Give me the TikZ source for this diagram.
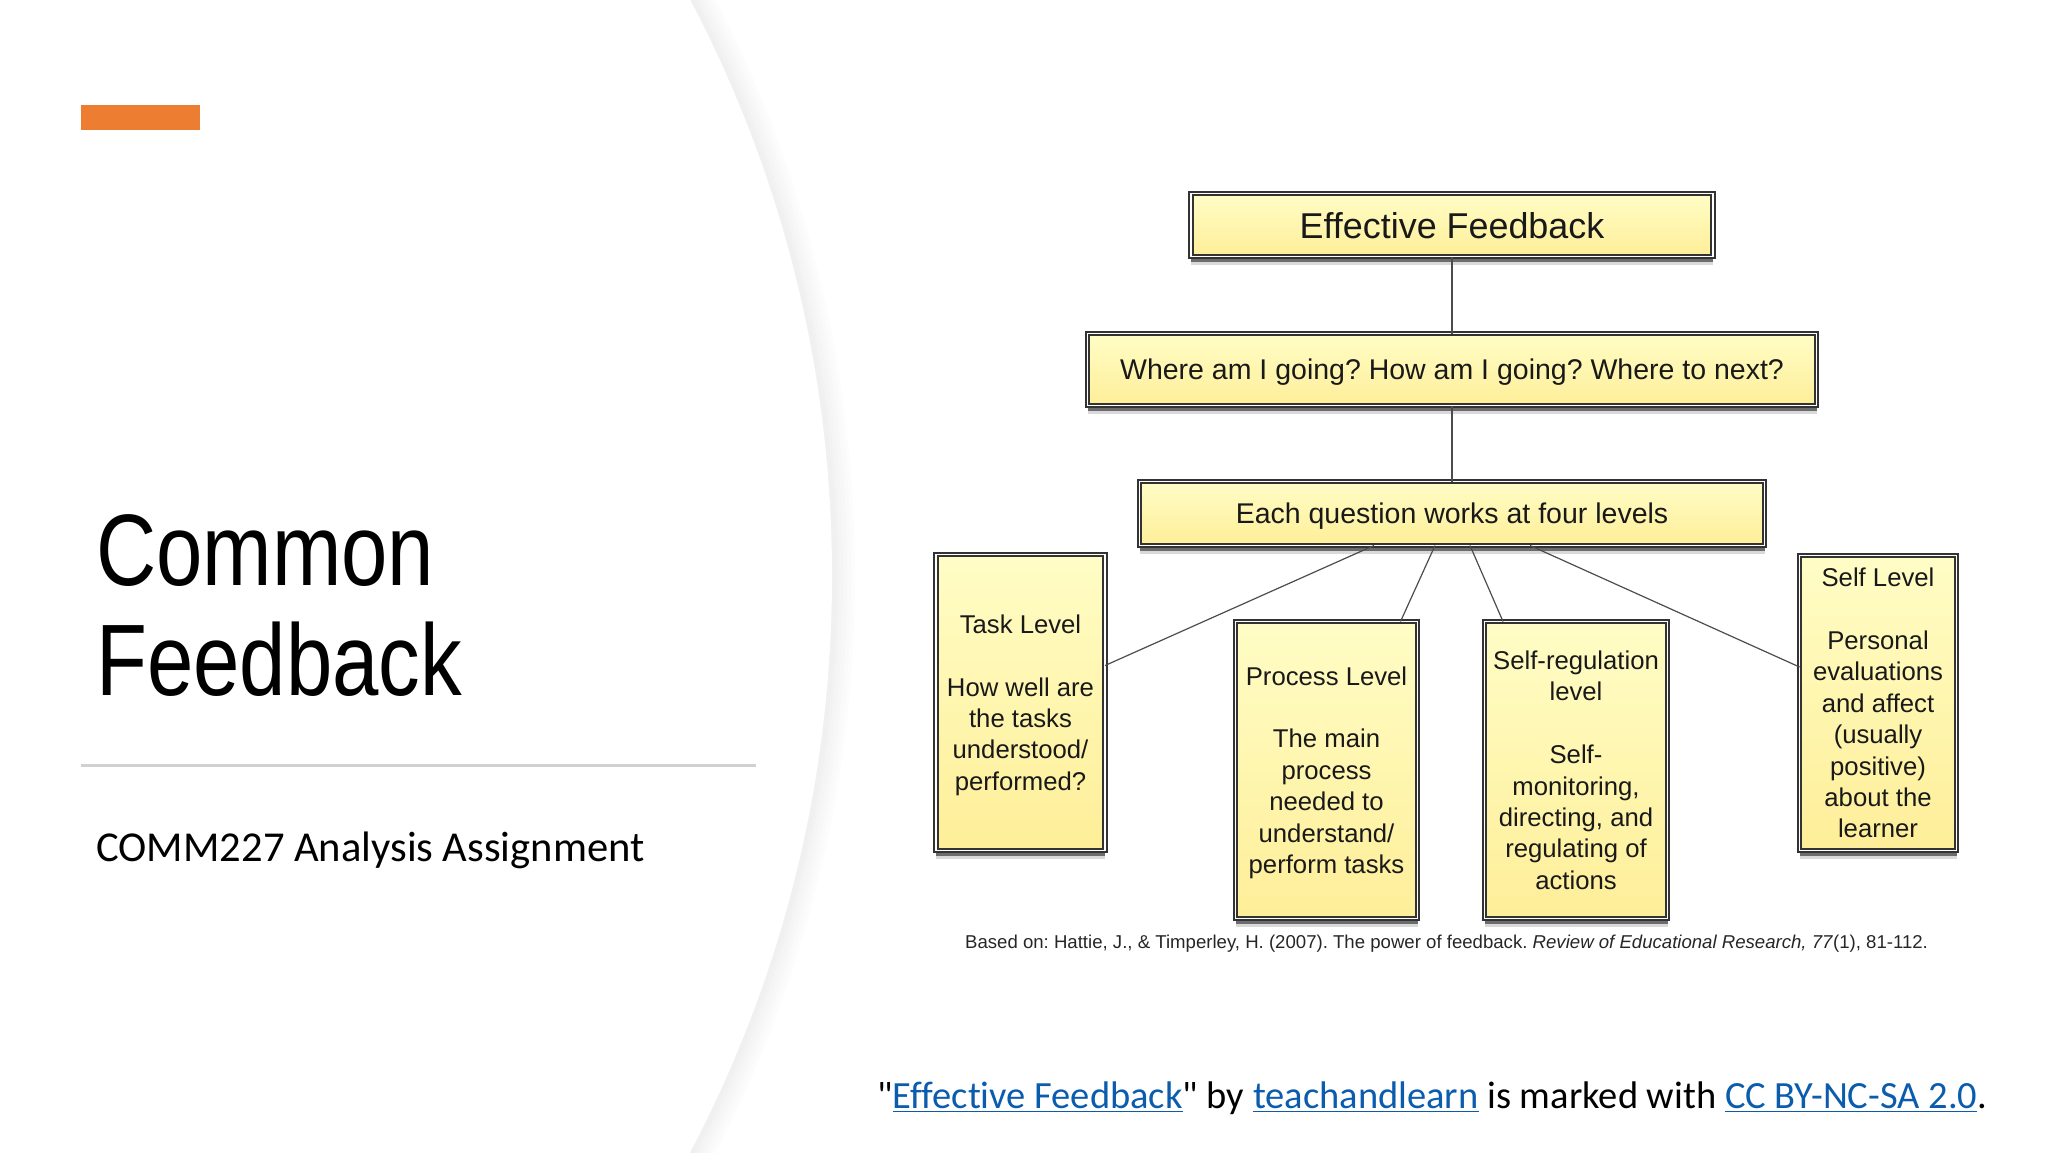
\documentclass[tikz,border=0pt]{standalone}
\usepackage{fontspec}
\setmainfont{Liberation Sans}
\newfontfamily\titlefont[FakeStretch=0.82]{Liberation Sans}
\newfontfamily\slidefont[Ligatures=NoCommon]{Carlito}
\usetikzlibrary{shadows}

\definecolor{accent}{HTML}{ED7D31}
\definecolor{linkblue}{HTML}{0B5CAD}
\definecolor{boxtop}{HTML}{FFFDC6}
\definecolor{boxbottom}{HTML}{FEEE98}
\newcommand{\lnk}[1]{\textcolor{linkblue}{\underline{#1}}}

\tikzset{
    fbbox/.style={draw=black!80,line width=0.85pt,double=white,double distance=0.9pt,
        top color=boxtop,bottom color=boxbottom,outer sep=0pt,inner sep=0pt,align=center,
        text=black!90,text depth=0pt,font=\fontsize{14.25}{15.7}\selectfont,
        drop shadow={shadow xshift=0pt,shadow yshift=-4pt,opacity=.15,fill=black},
        drop shadow={shadow xshift=0pt,shadow yshift=-2.8pt,opacity=.5,fill=black}},
    levelbox/.style={fbbox,font=\fontsize{12.85}{15.7}\selectfont},
    fbline/.style={draw=black!70,line width=0.6pt}
}

\begin{document}
\frenchspacing
\begin{tikzpicture}[x=0.5pt,y=-0.5pt]

    \useasboundingbox (0,0) rectangle (2048,1152);

    %draw curved panel
    \begin{scope}
    \clip (0,0) rectangle (2048,1152);
    \foreach \r/\g in {1262/1,1258/2,1254/3,1250/4,1246/5,1243/6,1239/0}
        \fill[black!\g!white] (-407,576) circle [radius=\r];
    \end{scope}

    %draw slide title
    \fill[accent] (81,105) rectangle (200,130);
    \draw[black!18,line width=1.5pt] (81,765) -- (756,765);
    \node (common) at (96,585) [anchor=base west,inner sep=0pt] {\titlefont\fontsize{50.8}{54}\selectfont Common};
    \node (feedback) at (96,695) [anchor=base west,inner sep=0pt] {\titlefont\fontsize{50.8}{54}\selectfont Feedback};
    \node (subtitle) at (96,861) [anchor=base west,inner sep=0pt] {\slidefont\fontsize{21.3}{24}\selectfont COMM227 Analysis Assignment};

    %draw boxes
    \node (effective) at (1452,225) [fbbox,minimum width=261pt,minimum height=31.5pt,font=\fontsize{17.95}{20}\selectfont] {Effective Feedback};
    \node (questions) at (1452,369.5) [fbbox,minimum width=364.5pt,minimum height=36pt] {Where am I going? How am I going? Where to next?};
    \node (levels) at (1452,513.5) [fbbox,minimum width=312.5pt,minimum height=32pt] {Each question works at four levels};
    \node (task) at (1020.5,702.5) [levelbox,minimum width=84.5pt,minimum height=148pt] {Task Level\\[15.7pt]How well are\\the tasks\\understood/\\performed?};
    \node (process) at (1326.5,770) [levelbox,minimum width=91pt,minimum height=148.5pt] {Process Level\\[15.7pt]The main\\process\\needed to\\understand/\\perform tasks};
    \node (selfreg) at (1576,770) [levelbox,minimum width=91.5pt,minimum height=148.5pt] {Self-regulation\\level\\[15.7pt]Self-\\monitoring,\\directing, and\\regulating of\\actions};
    \node (selflevel) at (1878,703) [levelbox,minimum width=78.5pt,minimum height=147.5pt] {Self Level\\[15.7pt]Personal\\evaluations\\and affect\\(usually\\positive)\\about the\\learner};

    %draw connectors
    \draw[fbline] (effective) -- (questions);
    \draw[fbline] (questions) -- (levels);
    \draw[fbline] ([xshift=-39pt]levels.south) -- ([yshift=18.5pt]task.east);
    \draw[fbline] ([xshift=-8.5pt]levels.south) -- ([xshift=37pt]process.north);
    \draw[fbline] ([xshift=9pt]levels.south) -- ([xshift=-36.5pt]selfreg.north);
    \draw[fbline] ([xshift=39pt]levels.south) -- ([yshift=18pt]selflevel.west);

    %draw source lines
    \node (source) at (1446.5,948) [anchor=base,inner sep=0pt,text=black!85] {\fontsize{9.3}{12}\selectfont Based on: Hattie, J., \& Timperley, H. (2007). The power of feedback. \textit{Review of Educational Research, 77}(1), 81-112.};
    \node (credit) at (877,1108) [anchor=base west,inner sep=0pt] {\slidefont\fontsize{19.25}{22}\selectfont "\lnk{Effective Feedback}" by \lnk{teachandlearn} is marked with \lnk{CC BY-NC-SA 2.0}.};

\end{tikzpicture}
\end{document}
